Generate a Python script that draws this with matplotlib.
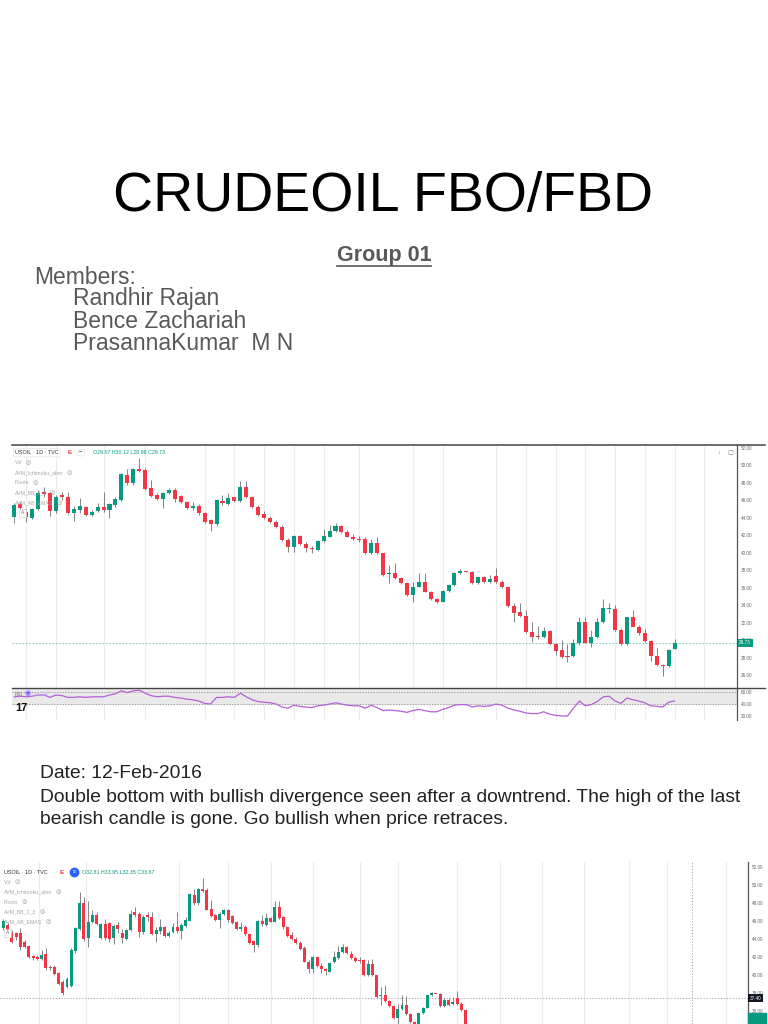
import matplotlib
matplotlib.use("Agg")
import matplotlib.pyplot as plt
import numpy as np
from matplotlib.lines import Line2D

plt.rcParams['font.family'] = ['Liberation Sans', 'DejaVu Sans']

W, H = 768, 1024
GREEN = '#089981'
RED = '#f23645'
WICK = '#6f6f6f'
GRID = '#ececec'
LEGEND_GRAY = '#a8a8a8'

# ---- chart 1 (Sep 2015 - 12 Feb 2016), candles 1..112 ----
c1_open = [44.07, 45.56, 44.72, 43.96, 45.02, 47.00, 46.81, 44.80, 46.62, 46.43,
           44.53, 44.91, 45.29, 44.34, 44.80, 45.29, 44.91, 45.48, 46.05, 48.91,
           48.03, 49.60, 49.48, 47.39, 46.62, 46.13, 46.81, 47.20, 46.51, 45.86,
           45.10, 45.37, 44.61, 43.77, 43.31, 45.98, 45.60, 46.36, 45.94, 47.58,
           46.43, 45.29, 44.45, 44.03, 43.58, 43.01, 41.48, 40.64, 41.94, 41.03,
           40.61, 40.34, 41.41, 41.86, 42.55, 43.08, 42.36, 41.86, 41.60, 41.60,
           39.96, 41.18, 39.96, 37.60, 37.75, 37.10, 36.53, 35.20, 36.15, 36.64,
           35.58, 34.74, 34.43, 35.69, 36.34, 37.75, 37.87, 37.86, 36.53, 37.22,
           36.72, 37.37, 36.72, 36.11, 33.98, 33.22, 32.80, 31.01, 30.51, 30.44,
           31.12, 29.56, 28.91, 28.27, 28.23, 29.67, 32.15, 29.67, 30.44, 32.07,
           33.60, 33.60, 31.20, 29.56, 32.65, 31.58, 30.89, 29.98, 28.23, 27.20,
           27.08, 29.07]
c1_high = [45.67, 45.86, 45.10, 45.10, 47.20, 47.58, 47.00, 46.62, 47.00, 47.00,
           45.37, 46.24, 45.41, 44.91, 45.75, 47.00, 45.75, 46.43, 49.10, 49.56,
           49.67, 50.81, 49.67, 48.34, 46.81, 47.00, 47.39, 47.39, 46.62, 45.98,
           45.86, 45.60, 44.72, 43.88, 46.13, 46.62, 46.89, 46.43, 48.26, 48.26,
           46.51, 45.48, 44.80, 44.26, 43.77, 43.20, 41.67, 42.05, 42.05, 41.29,
           40.80, 41.48, 42.70, 43.20, 43.39, 43.20, 42.62, 42.13, 41.98, 41.79,
           41.60, 41.79, 40.03, 38.63, 38.89, 37.22, 36.64, 36.72, 37.75, 37.67,
           35.69, 34.82, 35.77, 36.45, 37.86, 38.13, 37.90, 37.98, 37.37, 37.37,
           37.48, 38.24, 36.91, 36.22, 34.25, 34.25, 33.48, 32.07, 31.66, 31.58,
           31.20, 29.67, 30.06, 29.60, 30.13, 32.65, 32.72, 31.20, 32.53, 34.74,
           34.25, 34.06, 31.39, 32.72, 33.48, 31.77, 31.27, 30.06, 29.10, 27.31,
           28.99, 30.12]
c1_low = [43.39, 44.72, 43.58, 43.88, 44.91, 46.43, 44.22, 44.61, 46.05, 44.45,
          43.69, 44.53, 44.26, 44.22, 44.72, 44.72, 43.96, 45.29, 45.98, 47.77,
          47.77, 49.29, 47.20, 46.43, 46.05, 45.18, 46.70, 45.86, 45.67, 44.99,
          44.91, 44.34, 43.39, 42.55, 43.12, 45.48, 45.48, 45.86, 45.86, 46.24,
          45.10, 44.22, 43.84, 43.39, 42.81, 41.41, 40.15, 40.15, 40.91, 40.15,
          39.96, 40.26, 41.29, 41.79, 42.43, 42.32, 41.79, 41.48, 41.29, 39.88,
          39.88, 39.88, 37.37, 36.61, 36.99, 36.45, 35.12, 34.43, 36.07, 35.50,
          34.62, 34.24, 34.36, 35.58, 36.26, 37.60, 37.82, 36.45, 36.45, 36.53,
          36.61, 36.61, 35.96, 33.86, 32.07, 32.72, 30.89, 29.87, 30.13, 30.32,
          29.48, 28.34, 28.04, 27.58, 28.07, 29.48, 29.67, 29.29, 30.32, 31.96,
          33.18, 31.12, 29.48, 29.48, 31.50, 30.63, 29.87, 27.69, 27.08, 25.98,
          26.93, 28.98]
c1_close = [45.48, 45.10, 44.07, 45.02, 46.81, 46.70, 44.80, 46.43, 46.43, 44.61,
            45.02, 45.37, 44.34, 44.72, 45.29, 44.91, 45.56, 46.13, 48.99, 48.03,
            49.56, 49.37, 47.27, 46.51, 46.13, 46.81, 47.20, 46.13, 45.79, 45.10,
            45.37, 44.53, 43.58, 43.31, 46.05, 45.67, 46.32, 45.94, 47.58, 46.36,
            45.29, 44.34, 43.96, 43.50, 42.93, 41.48, 40.64, 41.94, 41.03, 40.61,
            40.42, 41.37, 41.94, 42.55, 43.08, 42.43, 41.86, 41.56, 41.52, 39.96,
            41.18, 39.96, 37.48, 37.75, 37.10, 36.53, 35.20, 36.15, 36.64, 35.58,
            34.74, 34.43, 35.69, 36.34, 37.75, 37.98, 37.86, 36.53, 37.22, 36.64,
            36.99, 36.72, 36.07, 33.94, 33.18, 32.80, 30.93, 30.44, 30.36, 31.08,
            29.56, 28.80, 28.15, 28.15, 29.67, 32.15, 29.75, 30.44, 32.07, 33.67,
            33.67, 31.20, 29.56, 32.65, 31.58, 30.82, 29.98, 28.23, 27.20, 27.08,
            28.91, 29.73]
c1_rsi = [52, 53, 52, 53, 55, 55, 51, 55, 54, 51,
          51, 52, 51, 52, 52, 52, 55, 57, 62, 59,
          62, 63, 58, 54, 52, 53, 53, 51, 50, 48,
          47, 45, 41, 40, 51, 51, 52, 51, 58, 52,
          47, 44, 43, 42, 40, 35, 33, 38, 36, 35,
          34, 37, 38, 40, 42, 40, 38, 37, 37, 33,
          38, 34, 29, 30, 29, 28, 26, 29, 31, 29,
          27, 27, 31, 34, 38, 39, 39, 35, 37, 36,
          37, 40, 38, 33, 30, 28, 25, 24, 24, 27,
          23, 21, 20, 20, 33, 45, 37, 39, 44, 52,
          53, 45, 41, 50, 47, 45, 42, 37, 36, 35,
          43, 45]
c1_grid = [3, 8, 16, 23, 33, 38, 43, 48, 53, 59, 68, 73, 82, 87, 92, 97,
           102, 107, 112, 117]
c1_ticks = list(range(26, 54, 2))
rsi_ticks = [20, 40, 60]

# ---- chart 2 (Jul 2015 onward): 26 earlier candles, then chart-1 candles 1..84 ----
pre_open = [45.19, 45.56, 44.70, 44.63, 44.70, 43.70, 43.22, 42.10, 42.03, 41.73,
            42.29, 40.91, 40.91, 40.17, 39.24, 38.68, 38.75, 42.70, 45.11, 48.05,
            44.07, 45.93, 46.68, 44.07, 45.64, 45.75]
pre_high = [46.19, 45.75, 45.00, 44.82, 45.19, 43.89, 43.33, 42.21, 42.21, 42.77,
            42.96, 41.10, 41.10, 40.35, 39.42, 39.72, 42.96, 45.37, 49.20, 48.72,
            48.28, 47.24, 47.05, 45.75, 46.19, 45.93]
pre_low = [45.00, 44.82, 43.51, 43.89, 42.77, 42.96, 41.84, 41.66, 41.66, 41.66,
           40.54, 40.54, 39.98, 38.86, 37.75, 38.49, 38.68, 42.40, 45.00, 43.81,
           43.14, 45.75, 45.52, 43.96, 43.89, 43.70]
pre_close = [46.01, 45.00, 43.70, 44.18, 43.07, 43.14, 42.03, 41.84, 41.73, 42.21,
             40.73, 40.73, 40.09, 38.97, 37.93, 39.50, 42.77, 45.19, 48.05, 43.96,
             45.93, 46.68, 45.64, 45.64, 44.07, 43.96]
c2_last = 84
c2_grid = [-16.5, -5.5, 16.5, 28, 38, 48, 59, 68, 82, 92, 102, 112, 122.5,
           131.5, 145.5]
c2_ticks = list(range(36, 54, 2))
c2_cross_x = 137.3
c2_cross_price = 37.40

legend_items = ['Vol', 'AVM_Ichimoku_alert', 'Pivots', 'AVM_BB_2_3', 'AVM_AB_EMAS']


def rect(x0, y0, x1, y1):
    return [x0 / W, 1 - y1 / H, (x1 - x0) / W, (y1 - y0) / H]


def fx(x):
    return x / W


def fy(y):
    return 1 - y / H


def draw_candles(ax, x, o, h, l, c, width):
    o, h, l, c = map(np.asarray, (o, h, l, c))
    colors = np.where(c >= o, GREEN, RED)
    ax.vlines(x, l, h, colors=WICK, linewidth=0.6, zorder=2)
    bottom = np.minimum(o, c)
    height = np.maximum(np.abs(c - o), 0.06)
    ax.bar(x, height, width, bottom=bottom, color=colors, linewidth=0, zorder=3)


def style_price_axis(ax, ticks):
    for s in ['left', 'bottom', 'top']:
        ax.spines[s].set_visible(False)
    ax.spines['right'].set_color('#555555')
    ax.spines['right'].set_linewidth(0.9)
    ax.set_xticks([])
    ax.yaxis.tick_right()
    ax.set_yticks(ticks)
    ax.set_yticklabels(['%.2f' % t for t in ticks])
    ax.tick_params(axis='y', length=0, pad=3, labelsize=3.3, labelcolor='#666666')


def legend_block(x, y0, title, ohlc, boxed=True):
    if boxed:
        fig.text(fx(x), fy(y0), title, fontsize=4, color='#333333', va='center',
                 bbox=dict(boxstyle='round,pad=0.3', fc='white', ec='#dddddd', lw=0.4))
        fig.text(fx(x + 53), fy(y0), 'E', fontsize=4.5, color=RED, fontweight='bold',
                 va='center')
        fig.text(fx(x + 64), fy(y0), '\u2022\u2022\u2022', fontsize=3, color='#555555',
                 va='center', bbox=dict(boxstyle='round,pad=0.3', fc='white',
                                        ec='#dddddd', lw=0.4))
        ox = x + 78
    else:
        fig.text(fx(x), fy(y0), title, fontsize=4, color='#333333', va='center')
        fig.text(fx(x + 56), fy(y0), 'E', fontsize=4.5, color=RED, fontweight='bold',
                 va='center')
        # blue indicator badge drawn as a marker, with its glyph on top
        fig.add_artist(Line2D([fx(x + 70)], [fy(y0)], marker='o', markersize=6,
                              color='#2962ff', lw=0))
        fig.text(fx(x + 70), fy(y0), '\u2261', fontsize=3.5, color='white',
                 va='center', ha='center')
        ox = x + 78
    fig.text(fx(ox), fy(y0), ohlc, fontsize=3.8, color=GREEN, va='center')
    for k, name in enumerate(legend_items):
        t = fig.text(fx(x), fy(y0 + 10 * (k + 1)), name, fontsize=3.8,
                     color=LEGEND_GRAY, va='center')
        fig.canvas.draw()
        bb = t.get_window_extent()
        fig.text((bb.x1 + 3) / W, fy(y0 + 10 * (k + 1)), '\u25ce', fontsize=4.5,
                 color='#9a9a9a', va='center')


fig = plt.figure(figsize=(7.68, 10.24), dpi=100)
fig.patch.set_facecolor('white')

# ---- slide text ----
fig.text(fx(383), fy(197), 'CRUDEOIL FBO/FBD', fontsize=40, ha='center',
         va='center', color='black')
grp = fig.text(fx(384), fy(255), 'Group 01', fontsize=15.5, fontweight='bold',
               ha='center', va='center', color='#595959')
fig.text(fx(34), fy(277), 'Members:', fontsize=16.5, va='center', color='#595959')
for k, name in enumerate(['Randhir Rajan', 'Bence Zachariah', 'PrasannaKumar  M N']):
    fig.text(fx(73), fy(299 + 22 * k), name, fontsize=16.5, va='center', color='#595959')

body_kw = dict(fontsize=13.9, va='center', color='#222222')
fig.text(fx(40), fy(774), 'Date: 12-Feb-2016', **body_kw)
fig.text(fx(40), fy(798), 'Double bottom with bullish divergence seen after a downtrend. '
         'The high of the last', **body_kw)
fig.text(fx(40), fy(819), 'bearish candle is gone. Go bullish when price retraces.',
         **body_kw)

# ---- chart 1 price pane ----
x1 = np.arange(1, len(c1_close) + 1)
ax1 = fig.add_axes(rect(12, 445, 737, 688))
ax1.set_xlim(0.61, 122.5)
ax1.set_ylim(24.57, 52.34)
style_price_axis(ax1, c1_ticks)
for g in c1_grid:
    ax1.axvline(g, color=GRID, lw=0.8, zorder=0)
draw_candles(ax1, x1, c1_open, c1_high, c1_low, c1_close, 0.68)
ax1.axhline(c1_close[-1], color=GREEN, lw=0.6, ls=(0, (2, 2)), alpha=0.6, zorder=1)
ax1.text(1.003, c1_close[-1], '%.2f' % c1_close[-1], transform=ax1.get_yaxis_transform(),
         fontsize=3.3, color='white', va='center', ha='left',
         bbox=dict(boxstyle='square,pad=0.35', fc=GREEN, ec='none'))
fig.text(fx(719), fy(453), '\u2193', fontsize=4, color='#777777', ha='center', va='center')
fig.text(fx(730), fy(453), '\u25a2', fontsize=4.5, color='#777777', ha='center', va='center')
fig.add_artist(Line2D([fx(12), fx(765)], [fy(445)] * 2, color='#444444', lw=1.1))

legend_block(15, 452.7, 'USOIL \u00b7 1D \u00b7 TVC', 'O29.07 H30.12 L28.98 C29.73')
fig.text(fx(21), fy(513), 'A', fontsize=3.5, color='#777777', va='center',
         bbox=dict(boxstyle='square,pad=0.4', fc='white', ec='#cccccc', lw=0.4))

# ---- chart 1 RSI pane ----
axr = fig.add_axes(rect(12, 688, 737, 720))
axr.set_xlim(0.61, 122.5)
axr.set_ylim(13.3, 66.7)
style_price_axis(axr, rsi_ticks)
for g in c1_grid:
    axr.axvline(g, color=GRID, lw=0.8, zorder=0)
axr.axhspan(40, 66.7, color='#e9e9e9', zorder=0.5)
for lv in [40, 60]:
    axr.axhline(lv, color='#8a8a8a', lw=0.5, ls=(0, (2, 2)), zorder=1)
axr.plot(x1, c1_rsi, color='#b65fd8', lw=0.9, zorder=3)
fig.add_artist(Line2D([fx(12), fx(765)], [fy(688)] * 2, color='#444444', lw=1.0))
fig.text(fx(15), fy(694), 'RSI', fontsize=3.5, color='#777777', va='center')
fig.text(fx(28), fy(694), '\u25c9', fontsize=5, color='#7e57ff', va='center', ha='center')
fig.text(fx(34), fy(694), '14  14', fontsize=3.5, color='#c9a3e6', va='center')
fig.text(fx(15), fy(708), '17', fontsize=8, fontweight='bold', color='#111111', va='center')

# ---- chart 2 ----
x2 = np.arange(-len(pre_close) + 1, c2_last + 1)
o2 = pre_open + c1_open[:c2_last]
h2 = pre_high + c1_high[:c2_last]
l2 = pre_low + c1_low[:c2_last]
cl2 = pre_close + c1_close[:c2_last]
ax2 = fig.add_axes(rect(0, 862, 748, 1024))
ax2.set_xlim(-25.8, 150.6)
ax2.set_ylim(34.51, 52.59)
style_price_axis(ax2, c2_ticks)
for g in c2_grid:
    ax2.axvline(g, color=GRID, lw=0.8, zorder=0)
draw_candles(ax2, x2, o2, h2, l2, cl2, 0.7)
ax2.axhline(c2_cross_price, color='#9a9a9a', lw=0.6, ls=(0, (1.5, 2)), zorder=1)
ax2.axvline(c2_cross_x, color='#9a9a9a', lw=0.6, ls=(0, (1.5, 2)), zorder=1)
ax2.text(1.002, c2_cross_price, '%.2f' % c2_cross_price, transform=ax2.get_yaxis_transform(),
         fontsize=3.3, color='white', va='center', ha='left',
         bbox=dict(boxstyle='square,pad=0.35', fc='#131722', ec='none'))
ax2.add_patch(plt.Rectangle((1.0, 0.0), 0.024, 0.065, transform=ax2.transAxes,
                            color=GREEN, clip_on=False, zorder=4))

legend_block(4, 872, 'USOIL \u00b7 1D \u00b7 TVC', 'O32.81 H33.95 L32.35 C33.67',
             boxed=False)
fig.text(fx(6), fy(933), 'A', fontsize=3.5, color='#777777', va='center',
         bbox=dict(boxstyle='square,pad=0.4', fc='white', ec='#cccccc', lw=0.4))

# underline for "Group 01"
fig.canvas.draw()
bb = grp.get_window_extent()
fig.add_artist(Line2D([bb.x0 / W, bb.x1 / W], [fy(266)] * 2, color='#595959', lw=1.2))

fig.savefig('out.png', dpi=100, facecolor='white')
